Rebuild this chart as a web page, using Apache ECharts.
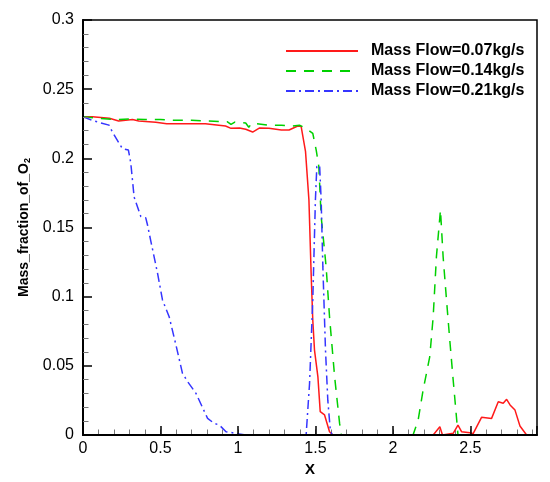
<!DOCTYPE html>
<html>
<head>
<meta charset="utf-8">
<script src="https://cdn.jsdelivr.net/npm/echarts@6/dist/echarts.min.js"></script>
<style>
  html, body { margin: 0; padding: 0; background: #fff; }
  #chart { width: 550px; height: 482px; }
</style>
</head>
<body>
<div id="chart"></div>
<script>
// data
const seriesNames = ["Mass Flow=0.07kg/s", "Mass Flow=0.14kg/s", "Mass Flow=0.21kg/s"];

const redX = [0, 0.06, 0.17, 0.23, 0.32, 0.36, 0.47, 0.54, 0.62, 0.79, 0.92, 0.955, 1.01, 1.05, 1.095, 1.14, 1.2, 1.28, 1.33, 1.386, 1.408, 1.436, 1.458, 1.473, 1.483, 1.494, 1.516, 1.531, 1.559, 1.591, 1.613, 2.26, 2.303, 2.32, 2.389, 2.42, 2.443, 2.497, 2.518, 2.572, 2.637, 2.68, 2.712, 2.734, 2.756, 2.788, 2.82, 2.863, 2.9];
const redY = [0.23, 0.23, 0.229, 0.227, 0.228, 0.227, 0.226, 0.225, 0.225, 0.225, 0.2234, 0.2217, 0.222, 0.221, 0.219, 0.222, 0.2217, 0.2205, 0.2205, 0.2234, 0.223, 0.205, 0.17, 0.1145, 0.083, 0.0614, 0.042, 0.0169, 0.0145, 0.0024, 0, 0, 0.006, 0, 0.0012, 0.0072, 0.0024, 0.0017, 0.001, 0.0128, 0.012, 0.024, 0.0229, 0.0258, 0.0217, 0.018, 0.0065, 0, 0];

const greenX = [0, 0.1, 0.2, 0.3, 0.4, 0.5, 0.6, 0.7, 0.8, 0.9, 0.93, 0.955, 0.98, 1.05, 1.07, 1.09, 1.1, 1.2, 1.28, 1.354, 1.397, 1.44, 1.483, 1.505, 1.522, 1.537, 1.569, 1.591, 1.624, 1.656, 1.667, 1.75, 2.13, 2.163, 2.195, 2.238, 2.26, 2.281, 2.307, 2.324, 2.346, 2.367, 2.389, 2.41, 2.42, 2.9];
const greenY = [0.23, 0.229, 0.228, 0.2285, 0.228, 0.228, 0.2275, 0.2275, 0.227, 0.2265, 0.2265, 0.2245, 0.2262, 0.2255, 0.2225, 0.2255, 0.225, 0.224, 0.224, 0.2234, 0.2239, 0.2217, 0.218, 0.206, 0.194, 0.158, 0.1217, 0.0855, 0.042, 0.0084, 0, 0, 0, 0.0108, 0.0325, 0.0566, 0.0855, 0.129, 0.1627, 0.129, 0.0976, 0.0687, 0.0398, 0.0132, 0, 0];

const blueX = [0, 0.071, 0.168, 0.19, 0.254, 0.293, 0.308, 0.33, 0.373, 0.405, 0.416, 0.438, 0.481, 0.513, 0.556, 0.6, 0.642, 0.675, 0.729, 0.804, 0.847, 0.88, 0.923, 0.998, 1.05, 1.44, 1.462, 1.483, 1.5, 1.509, 1.527, 1.537, 1.548, 1.565, 1.58, 1.596, 1.608, 2.9];
const blueY = [0.23, 0.227, 0.224, 0.219, 0.207, 0.206, 0.197, 0.172, 0.158, 0.157, 0.152, 0.14, 0.117, 0.0976, 0.0855, 0.065, 0.0446, 0.0386, 0.0301, 0.012, 0.0084, 0.0072, 0.0024, 0.001, 0, 0, 0.037, 0.0976, 0.17, 0.194, 0.195, 0.17, 0.1217, 0.0614, 0.025, 0.0036, 0, 0];

const xTicks = [0, 0.5, 1, 1.5, 2, 2.5];

(function () {
  const chart = echarts.init(document.getElementById("chart"));
  const font = "Liberation Sans, Arial, sans-serif";

  function pairs(xs, ys) {
    return xs.map((x, i) => [x, ys[i]]);
  }

  const option = {
    animation: false,
    backgroundColor: "#fff",
    grid: {
      left: 83, right: 13, top: 20, bottom: 47,
      show: true, borderColor: "#000", borderWidth: 1.5
    },
    legend: {
      orient: "vertical",
      left: 280,
      top: 37,
      itemWidth: 72,
      itemHeight: 14,
      itemGap: 2,
      // hide the circle marker, keep only the line
      itemStyle: { opacity: 0 },
      textStyle: {
        fontFamily: font, fontSize: 16, fontWeight: "bold", color: "#000",
        lineHeight: 18, padding: [0, 0, 0, 8]
      },
      data: seriesNames
    },
    xAxis: [
      {
        type: "value",
        min: 0, max: 2.93, interval: 0.5,
        z: 5,
        name: "X",
        nameLocation: "middle",
        nameGap: 18,
        nameTextStyle: { fontFamily: font, fontSize: 15, fontWeight: "bold", color: "#000" },
        axisLine: { lineStyle: { color: "#000", width: 2 } },
        axisTick: { inside: true, length: 9, lineStyle: { color: "#000", width: 1.5 } },
        splitLine: { show: false },
        axisLabel: {
          margin: 6,
          fontFamily: font, fontSize: 16, color: "#000",
          formatter: v => (xTicks.indexOf(v) >= 0 ? String(v) : "")
        }
      },
      {
        // minor ticks every 0.1
        type: "value",
        position: "bottom",
        min: 0, max: 2.93, interval: 0.1,
        axisLine: { show: false },
        axisLabel: { show: false },
        splitLine: { show: false },
        axisTick: { inside: true, length: 5.5, lineStyle: { color: "#777", width: 1 } }
      }
    ],
    yAxis: {
      type: "value",
      min: 0, max: 0.3, interval: 0.05,
      z: 5,
      name: "Mass_fraction_of_O{sub|2}",
      nameLocation: "middle",
      nameGap: 50,
      nameTextStyle: {
        fontFamily: font, fontSize: 14, fontWeight: "bold", color: "#000",
        rich: {
          sub: { fontFamily: font, fontSize: 9, fontWeight: "bold", color: "#000", verticalAlign: "bottom", padding: [6, 0, 0, 0] }
        }
      },
      axisLine: { lineStyle: { color: "#000", width: 2 } },
      axisTick: { inside: true, length: 9, lineStyle: { color: "#000", width: 1.5 } },
      minorTick: { show: true, splitNumber: 5, length: 5.5, lineStyle: { color: "#777", width: 1 } },
      splitLine: { show: false },
      axisLabel: { margin: 9, fontFamily: font, fontSize: 16, color: "#000" }
    },
    series: [
      {
        name: seriesNames[0],
        type: "line",
        symbol: "none",
        data: pairs(redX, redY),
        lineStyle: { color: "#ff1a1a", width: 1.5 },
        itemStyle: { color: "#ff1a1a" }
      },
      {
        name: seriesNames[1],
        type: "line",
        symbol: "none",
        data: pairs(greenX, greenY),
        lineStyle: { color: "#00d000", width: 1.5, type: [10, 8] },
        itemStyle: { color: "#00d000" }
      },
      {
        name: seriesNames[2],
        type: "line",
        symbol: "none",
        data: pairs(blueX, blueY),
        lineStyle: { color: "#3535ff", width: 1.5, type: [9, 4, 2, 4] },
        itemStyle: { color: "#3535ff" }
      }
    ]
  };
  chart.setOption(option);
})();
</script>
</body>
</html>
